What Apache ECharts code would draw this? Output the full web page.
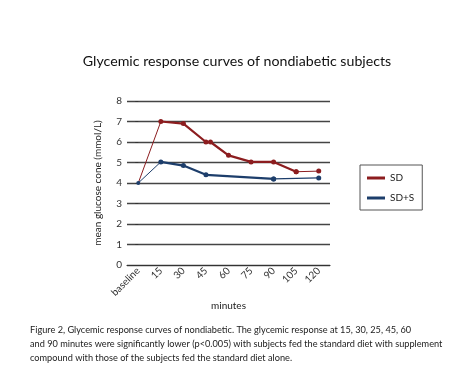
<!DOCTYPE html>
<html><head><meta charset="utf-8">
<script src="https://cdn.jsdelivr.net/npm/echarts@6/dist/echarts.min.js"></script>
<style>html,body{margin:0;padding:0;background:#fff}#c{width:474px;height:391px}</style>
</head><body><div id="c"></div>
<script>
var categories = ['baseline','15','30','45','60','75','90','105','120'];
var sdMinutes = [0, 15, 30, 45, 48, 60, 75, 90, 105, 120];
var sdValues  = [4.0, 7.0, 6.9, 6.0, 6.0, 5.35, 5.03, 5.03, 4.55, 4.58];
var sdsMinutes = [0, 15, 30, 45, 90, 120];
var sdsValues  = [4.0, 5.03, 4.85, 4.4, 4.2, 4.25];
var yTicks = [0,1,2,3,4,5,6,7,8];
var titleText = 'Glycemic response curves of nondiabetic subjects';
var captionText = 'Figure 2, Glycemic response curves of nondiabetic. The glycemic response at 15, 30, 25, 45, 60\nand 90 minutes were significantly lower (p<0.005) with subjects fed the standard diet with supplement\ncompound with those of the subjects fed the standard diet alone.';

var RED = '#8c1d1f', BLUE = '#1d3e6b';
function pts(m, v, a, b){ var r=[]; for(var i=a;i<=b;i++) r.push([m[i], v[i]]); return r; }

var font = 'Lato';
var chart = echarts.init(document.getElementById('c'));
chart.setOption({
  animation:false,
  textStyle:{fontFamily:font},
  title:{text:titleText,left:'center',top:49,textStyle:{fontFamily:font,fontSize:14.2,fontWeight:'normal',color:'#111'}},
  legend:{orient:'vertical',left:360,top:165,data:['SD','SD+S'],itemWidth:18,itemHeight:3,itemGap:10,
    borderColor:'#555',borderWidth:1,padding:[8,8,7,7],icon:'rect',
    textStyle:{fontFamily:font,fontSize:10,color:'#222'}},
  grid:{left:127,top:101,width:203,height:164},
  xAxis:[
    {type:'category',data:categories,boundaryGap:true,position:'bottom',
     axisLine:{lineStyle:{color:'#333',width:1.2}},axisTick:{lineStyle:{color:'#333'},length:3},
     axisLabel:{rotate:45,fontSize:10,color:'#333',margin:4,fontFamily:font},
     name:'minutes',nameLocation:'middle',nameGap:33,nameTextStyle:{fontSize:10,color:'#222',fontFamily:font}},
    {type:'value',min:-7.5,max:127.5,show:false}
  ],
  yAxis:{type:'value',min:0,max:8,interval:1,
    axisLine:{show:false},axisTick:{show:true,length:3,lineStyle:{color:'#333'}},
    axisLabel:{fontSize:10,color:'#333',margin:5,fontFamily:font,formatter:function(v){return yTicks.indexOf(v)>=0?String(v):'';}},
    splitLine:{lineStyle:{color:'#444',width:1.3}},
    name:'mean glucose cone (mmol/L)',nameLocation:'middle',nameGap:24,nameRotate:90,
    nameTextStyle:{fontSize:10,color:'#222',fontFamily:font}},
  series:[
    {name:'SD',type:'line',xAxisIndex:1,data:pts(sdMinutes,sdValues,1,8),color:RED,
     lineStyle:{width:2.2,color:RED},symbol:'circle',symbolSize:5,itemStyle:{color:RED}},
    {name:'SD',type:'line',xAxisIndex:1,data:pts(sdMinutes,sdValues,0,1),color:RED,
     lineStyle:{width:1,color:RED},symbol:'none'},
    {name:'SD',type:'line',xAxisIndex:1,data:pts(sdMinutes,sdValues,8,9),color:RED,
     lineStyle:{width:1,color:RED},symbol:'circle',symbolSize:5,itemStyle:{color:RED}},
    {name:'SD+S',type:'line',xAxisIndex:1,data:pts(sdsMinutes,sdsValues,1,4),color:BLUE,
     lineStyle:{width:2.2,color:BLUE},symbol:'circle',symbolSize:5,itemStyle:{color:BLUE}},
    {name:'SD+S',type:'line',xAxisIndex:1,data:pts(sdsMinutes,sdsValues,0,1),color:BLUE,
     lineStyle:{width:1,color:BLUE},symbol:'circle',symbolSize:4,itemStyle:{color:BLUE}},
    {name:'SD+S',type:'line',xAxisIndex:1,data:pts(sdsMinutes,sdsValues,4,5),color:BLUE,
     lineStyle:{width:1.4,color:BLUE},symbol:'circle',symbolSize:5,itemStyle:{color:BLUE}}
  ],
  graphic:[{type:'text',left:30,top:323,style:{text:captionText,fontFamily:font,fontSize:9.2,lineHeight:14,fill:'#222'}}]
});
</script></body></html>
